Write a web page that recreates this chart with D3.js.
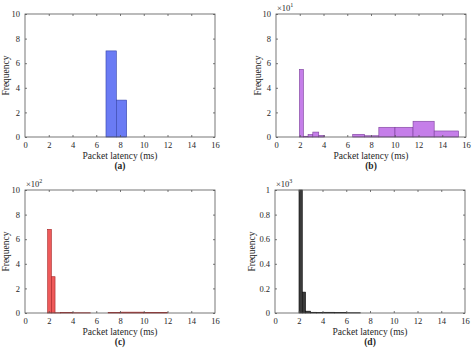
<!DOCTYPE html>
<html>
<head>
<meta charset="utf-8">
<script src="https://cdn.jsdelivr.net/npm/d3@7"></script>
<style>
  body { margin: 0; background: #fff; }
</style>
</head>
<body>
<svg id="chart" width="474" height="351"></svg>
<script>
// bin edges (ms) and counts per panel
var edgesA = [6.82, 7.69, 8.56];
var countsA = [7, 3];

var edgesB = [1.97, 2.31, 2.7, 3.1, 3.6, 4.1, 6.46, 7.45, 8.66, 10.02, 11.54, 13.32, 15.38];
var countsB = [55, 0.6, 2, 4, 1.3, 0, 2.2, 1, 7.9, 7.9, 12.8, 4.9];

var edgesC = [1.91, 2.22, 2.53, 3.0, 4.0, 5.5, 7.0, 8.0, 10.0, 12.0];
var countsC = [680, 295, 2, 3, 2, 0, 4, 7, 4];

var edgesD = [2.02, 2.30, 2.58, 3.0, 3.5, 4.0, 5.0, 6.0, 7.2];
var countsD = [1000, 170, 15, 6, 4, 6, 3, 2];

var xTicks = [0, 2, 4, 6, 8, 10, 12, 14, 16];

var panels = [
  { edges: edgesA, counts: countsA, yMax: 10, yTicks: [0, 2, 4, 6, 8, 10], scale: 1, exp: null,
    fill: "#6a7bf4", stroke: "#3443a8", left: 25, top: 14, label: "(a)", ylabX: 9 },
  { edges: edgesB, counts: countsB, yMax: 100, yTicks: [0, 20, 40, 60, 80, 100], scale: 10, exp: "1",
    fill: "#c57ee9", stroke: "#7b3f9a", left: 276, top: 14, label: "(b)", ylabX: 261 },
  { edges: edgesC, counts: countsC, yMax: 1000, yTicks: [0, 200, 400, 600, 800, 1000], scale: 100, exp: "2",
    fill: "#ee5a5a", stroke: "#a32323", left: 25, top: 190, label: "(c)", ylabX: 9 },
  { edges: edgesD, counts: countsD, yMax: 1000, yTicks: [0, 200, 400, 600, 800, 1000], scale: 1000, exp: "3",
    fill: "#3a3a3a", stroke: "#111111", left: 275, top: 190, label: "(d)", ylabX: 255 }
];

var W = 190, H = 123;
var FONT = "Liberation Serif";
var svg = d3.select("#chart");
var axisColor = "#555";

panels.forEach(function (p) {
  var g = svg.append("g").attr("transform", "translate(" + p.left + "," + p.top + ")");
  var x = d3.scaleLinear().domain([0, 16]).range([0, W]);
  var y = d3.scaleLinear().domain([0, p.yMax]).range([H, 0]);

  var bins = p.counts.map(function (c, i) {
    return { x0: p.edges[i], x1: p.edges[i + 1], v: c };
  }).filter(function (b) { return b.v > 0; });

  g.selectAll("rect.bar").data(bins).enter().append("rect")
    .attr("class", "bar")
    .attr("x", function (b) { return x(b.x0); })
    .attr("width", function (b) { return x(b.x1) - x(b.x0); })
    .attr("y", function (b) { return y(b.v); })
    .attr("height", function (b) { return H - y(b.v); })
    .attr("fill", p.fill)
    .attr("stroke", p.stroke)
    .attr("stroke-width", 0.6);

  // frame
  g.append("rect").attr("width", W).attr("height", H)
    .attr("fill", "none").attr("stroke", axisColor).attr("stroke-width", 0.8);

  var fmt = function (v) { return d3.format("~g")(v / p.scale); };

  var xb = g.append("g").attr("transform", "translate(0," + H + ")")
    .call(d3.axisBottom(x).tickValues(xTicks).tickSize(-2).tickPadding(5));
  var xt = g.append("g")
    .call(d3.axisTop(x).tickValues(xTicks).tickSize(-2).tickFormat(""));
  var yl = g.append("g")
    .call(d3.axisLeft(y).tickValues(p.yTicks).tickSize(-2).tickPadding(5).tickFormat(fmt));
  var yr = g.append("g").attr("transform", "translate(" + W + ",0)")
    .call(d3.axisRight(y).tickValues(p.yTicks).tickSize(-2).tickFormat(""));

  [xb, xt, yl, yr].forEach(function (a) {
    a.attr("font-family", FONT).attr("font-size", 8.5);
    a.select(".domain").remove();
    a.selectAll("line").attr("stroke", axisColor).attr("stroke-width", 0.8);
    a.selectAll("text").attr("fill", "#262626").attr("font-family", FONT);
  });
  xb.selectAll(".tick:first-child line, .tick:last-child line").remove();
  xt.selectAll(".tick:first-child line, .tick:last-child line").remove();

  if (p.exp) {
    var t = g.append("text").attr("x", 1).attr("y", -3)
      .attr("font-family", FONT).attr("font-size", 8.5).attr("fill", "#262626");
    t.append("tspan").text("\u00d710");
    t.append("tspan").attr("font-size", 6).attr("dy", -4).text(p.exp);
  }

  g.append("text").attr("x", W / 2).attr("y", H + 22)
    .attr("text-anchor", "middle").attr("font-family", FONT).attr("font-size", 9.5)
    .attr("fill", "#262626")
    .text("Packet latency (ms)");
  g.append("text").attr("x", W / 2).attr("y", H + 32)
    .attr("text-anchor", "middle").attr("font-family", FONT).attr("font-size", 9.5)
    .attr("font-weight", "bold").attr("fill", "#262626")
    .text(p.label);

  svg.append("text")
    .attr("transform", "translate(" + p.ylabX + "," + (p.top + H / 2) + ") rotate(-90)")
    .attr("text-anchor", "middle").attr("font-family", FONT).attr("font-size", 9.5)
    .attr("fill", "#262626")
    .text("Frequency");
});
</script>
</body>
</html>
